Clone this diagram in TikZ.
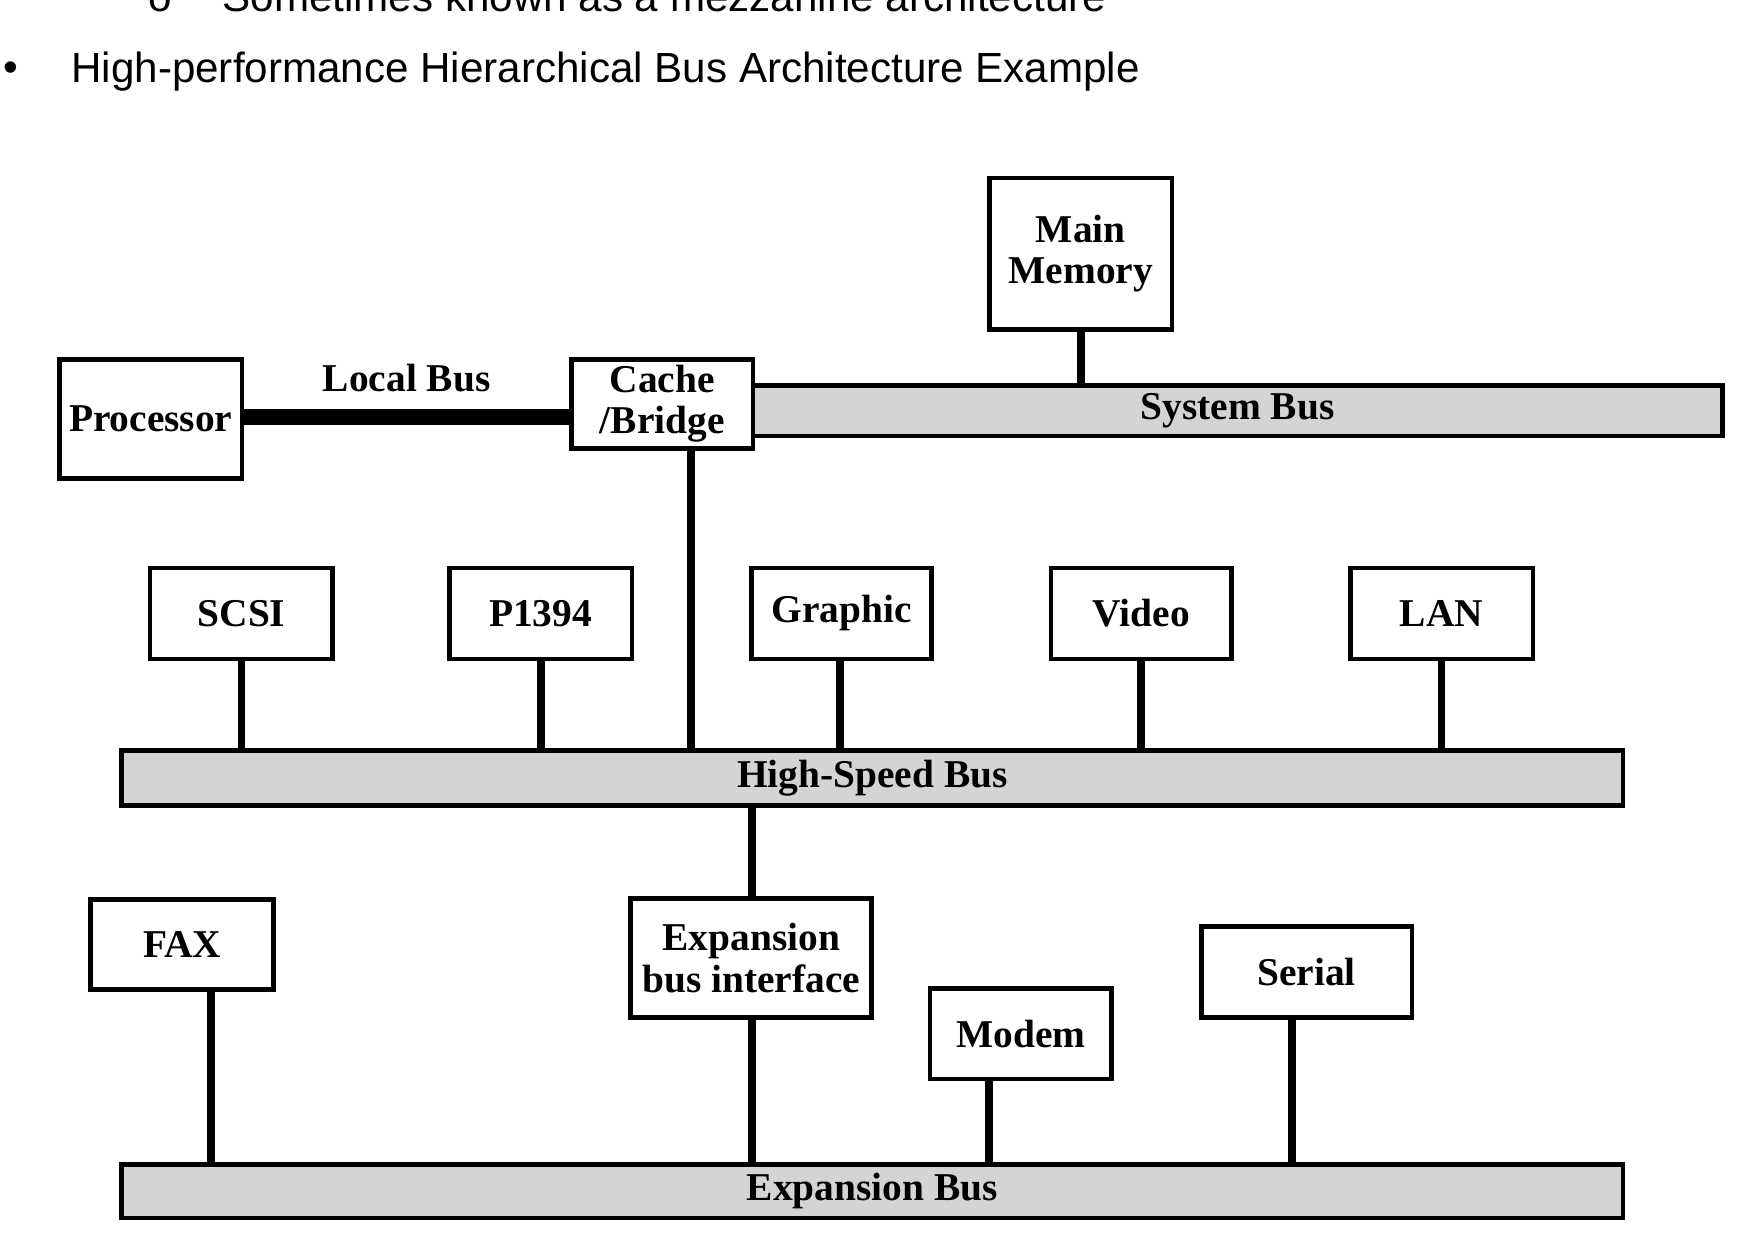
\documentclass[tikz,border=0pt]{standalone}
\usepackage{fontspec}
\setmainfont{Liberation Serif}
\newfontfamily\hdr{Liberation Sans}
\begin{document}
\begin{tikzpicture}[x=0.01cm,y=-0.01cm,
  box/.style={draw,line width=1.2pt,fill=white,font=\bfseries\fontsize{10}{10.5}\selectfont,align=center,inner sep=0pt},
  bus/.style={draw,line width=1.2pt,fill=black!17,font=\bfseries\fontsize{10}{10.5}\selectfont,inner sep=0pt},
  hd/.style={font=\hdr\fontsize{10.7}{12}\selectfont,inner sep=0pt},
  wire/.style={line width=2pt}]
\useasboundingbox (0,0) rectangle (1560,1124);
\node[hd,anchor=base west] (o1) at (132,10) {o};
\node[hd,anchor=base west] (t1) at (198,10) {Sometimes known as a mezzanine architecture};
\node[hd,anchor=west] (b2) at (2,64) {•};
\node[hd,anchor=west] (t2) at (63,64) {High-performance Hierarchical Bus Architecture Example};
% buses
\node[bus,minimum width=8.65cm,minimum height=0.45cm] (sys) at (1104.5,366.5) {System Bus};
\node[bus,minimum width=13.39cm,minimum height=0.49cm] (hs) at (778.5,694.5) {High-Speed Bus};
\node[bus,minimum width=13.39cm,minimum height=0.48cm] (exp) at (778.5,1063) {Expansion Bus};
% boxes
\node[box,minimum width=1.63cm,minimum height=1.35cm] (mm) at (964.5,226.5) {Main\\Memory};
\node[box,minimum width=1.62cm,minimum height=0.79cm] (cb) at (591,360.5) {Cache\\/Bridge};
\node[box,minimum width=1.63cm,minimum height=1.06cm] (pr) at (134.5,374) {Processor};
\node[box,minimum width=1.63cm,minimum height=0.81cm] (scsi) at (215.5,547.5) {SCSI};
\node[box,minimum width=1.63cm,minimum height=0.81cm] (p13) at (482.5,547.5) {P1394};
\node[box,minimum width=1.60cm,minimum height=0.81cm] (gr) at (751,547.5) {Graphic};
\node[box,minimum width=1.61cm,minimum height=0.81cm] (vid) at (1018.5,547.5) {Video};
\node[box,minimum width=1.63cm,minimum height=0.81cm] (lan) at (1286.5,547.5) {LAN};
\node[box,minimum width=2.15cm,minimum height=1.06cm] (ebi) at (670.5,855) {Expansion\\bus interface};
\node[box,minimum width=1.63cm,minimum height=0.80cm] (fax) at (162.5,843) {FAX};
\node[box,minimum width=1.62cm,minimum height=0.81cm] (mod) at (911,922.5) {Modem};
\node[box,minimum width=1.88cm,minimum height=0.81cm] (ser) at (1166,867.5) {Serial};
% wires
\draw[line width=4.2pt] (pr.east|-0,372) -- (cb.west|-0,372) node[midway,above=1pt,font=\bfseries\fontsize{10}{10.5}\selectfont] (lb) {Local Bus};
\draw[wire] (mm.south) -- (sys.north-|mm.south);
\draw[wire] (cb.south-|617,0) -- (hs.north-|617,0);
\draw[wire] (scsi.south) -- (hs.north-|scsi.south);
\draw[wire] (p13.south) -- (hs.north-|p13.south);
\draw[wire] (gr.south-|750,0) -- (hs.north-|750,0);
\draw[wire] (vid.south) -- (hs.north-|vid.south);
\draw[wire] (lan.south) -- (hs.north-|lan.south);
\draw[wire] (hs.south-|671,0) -- (ebi.north-|671,0);
\draw[wire] (ebi.south-|671,0) -- (exp.north-|671,0);
\draw[wire] (fax.south-|188,0) -- (exp.north-|188,0);
\draw[wire] (mod.south-|883,0) -- (exp.north-|883,0);
\draw[wire] (ser.south-|1153,0) -- (exp.north-|1153,0);
\end{tikzpicture}
\end{document}
